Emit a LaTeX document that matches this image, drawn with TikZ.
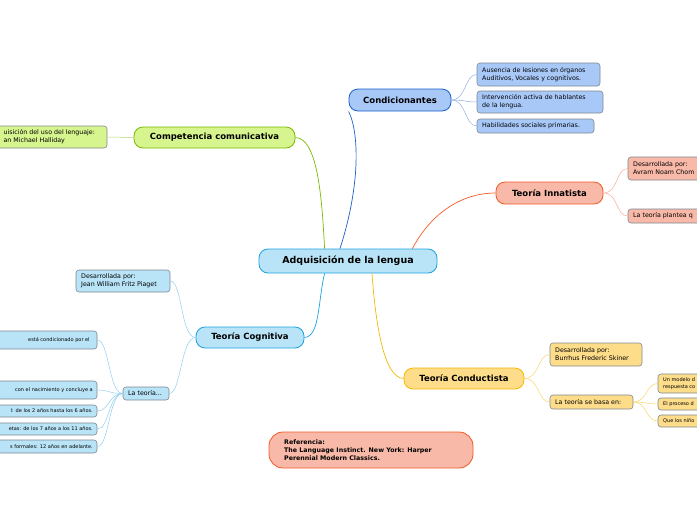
\documentclass[tikz,border=0pt]{standalone}
\usepackage{fontspec}
\setmainfont{DejaVu Sans}
\begin{document}
\begin{tikzpicture}[x=1pt,y=-1pt,
 box/.style={draw, rounded corners=3pt, line width=0.6pt, inner sep=0pt},
 main/.style={box, rounded corners=9pt, line width=0.8pt},
 tmain/.style={font=\fontsize{8.5}{10}\selectfont\bfseries},
 tch/.style={font=\fontsize{6.3}{8}\selectfont},
 tsm/.style={font=\fontsize{5}{6.5}\selectfont},
 cc/.style={line width=0.7pt},
 ch/.style={line width=0.5pt}]
\definecolor{cblue}{HTML}{B9E4F7}\definecolor{bblue}{HTML}{1BA1E2}
\definecolor{cdark}{HTML}{A8C8F8}\definecolor{bdark}{HTML}{1A5FC8}
\definecolor{cgreen}{HTML}{D6F58E}\definecolor{bgreen}{HTML}{7AB800}
\definecolor{cred}{HTML}{F8B9A8}\definecolor{bred}{HTML}{F05A28}
\definecolor{cyel}{HTML}{FDDC8A}\definecolor{byel}{HTML}{F5B800}
\definecolor{gb}{HTML}{808890}
\newcommand\bxc[7]{\node[#6, minimum width={(#3-#2)*1pt}, minimum height={(#5-#4)*1pt}] (#1) at ({(#2+#3)/2},{(#4+#5)/2}) {};
 \node[tmain] at (#1.center) {#7};}
\newcommand\bxl[8]{\node[#6, minimum width={(#3-#2)*1pt}, minimum height={(#5-#4)*1pt}] (#1) at ({(#2+#3)/2},{(#4+#5)/2}) {};
 \node[#8, anchor=west, align=left, inner sep=0pt] at ({#2+5},{(#4+#5)/2}) {#7};}
\useasboundingbox (0,0) rectangle (697,520);
\clip (0,0) rectangle (697,520);
% central
\bxc{c}{259}{437}{249}{273}{main,fill=cblue,draw=bblue}{\fontsize{9.5}{11}\selectfont Adquisición de la lengua}
% main branches
\bxc{cond}{349}{451}{89}{111}{main,fill=cdark,draw=bdark}{Condicionantes}
\bxc{comp}{134}{295}{127}{148}{main,fill=cgreen,draw=bgreen}{Competencia comunicativa}
\bxc{inn}{496}{603}{182}{204}{main,fill=cred,draw=bred}{Teoría Innatista}
\bxc{cog}{196}{304}{327}{348}{main,fill=cblue,draw=bblue}{Teoría Cognitiva}
\bxc{con}{404}{524}{368}{389}{main,fill=cyel,draw=byel}{Teoría Conductista}
\draw[cc,bdark] (c.north)+(-8,0) coordinate (c1);
\draw[cc,bdark] (c1) .. controls (362,180) and (358,130) .. (cond.south west);
\draw[cc,bgreen] (c.north west)+(66,0) coordinate (c2);
\draw[cc,bgreen] (c2) .. controls (322,200) and (318,138) .. (comp.east);
\draw[cc,bred] (c.north east)+(-25,0) coordinate (c3);
\draw[cc,bred] (c3) .. controls (430,215) and (460,193) .. (inn.west);
\draw[cc,bblue] (c.south west)+(66,0) coordinate (c4);
\draw[cc,bblue] (c4) .. controls (318,300) and (320,337) .. (cog.east);
\draw[cc,byel] (c.south)+(24,0) coordinate (c5);
\draw[cc,byel] (c5) .. controls (376,330) and (385,378) .. (con.west);
% Condicionantes children
\bxl{k1}{477}{600}{63}{86}{box,fill=cdark,draw=gb}{Ausencia de lesiones en órganos\\Auditivos, Vocales y cognitivos.}{tch}
\bxl{k2}{477}{603}{91}{113}{box,fill=cdark,draw=gb}{Intervención activa de hablantes\\de la lengua.}{tch}
\bxl{k3}{477}{594}{119}{133}{box,fill=cdark,draw=gb}{Habilidades sociales primarias.}{tch}
\foreach \k in {k1,k2,k3}\draw[ch,bdark!50] (cond.east) .. controls +(15,0) and +(-12,0) .. (\k.west);
% Competencia child
\bxl{g1}{-60}{107}{126}{148}{box,fill=cgreen,draw=gb}{}{tch}
\node[tch,anchor=east,align=left,inner sep=0pt] at (104,137) {uisición del uso del lenguaje:\\an Michael Halliday\phantom{ el lenguaje:}};
\draw[ch,bgreen!60] (comp.west) -- (g1.east);
% Innatista children
\bxl{i1}{628}{760}{157}{180}{box,fill=cred,draw=gb}{Desarrollada por:\\Avram Noam Chom}{tch}
\bxl{i2}{628}{760}{209}{223}{box,fill=cred,draw=gb}{La teoría plantea q}{tch}
\foreach \k in {i1,i2}\draw[ch,bred!50] (inn.east) .. controls +(15,0) and +(-12,0) .. (\k.west);
% Cognitiva children
\bxl{p1}{76}{170}{270}{292}{box,fill=cblue,draw=gb}{Desarrollada por:\\Jean William Fritz Piaget}{tch}
\bxl{p2}{123}{169}{387}{400}{box,fill=cblue,draw=gb}{La teoría...}{tch}
\foreach \k in {p1,p2}\draw[ch,bblue!50] (cog.west) .. controls +(-15,0) and +(12,0) .. (\k.east);
\newcommand\lb[4]{\node[box,fill=cblue,draw=gb,minimum width=160pt,minimum height={(#3-#2)*1pt}] (#1) at (17,{(#2+#3)/2}) {};
 \node[tsm,anchor=east,inner sep=0pt] at (93,{(#2+#3)/2}) {#4};
 \draw[ch,bblue!50] (p2.west) .. controls +(-14,0) and +(12,0) .. (#1.east);}
\lb{q1}{331}{349}{está condicionado por el\phantom{g}}
\node[tsm,anchor=east,inner sep=0pt] at (93,336.5) {\phantom{x}};
\lb{q2}{381}{399}{con el nacimiento y concluye a}
\lb{q3}{405}{417}{l: de los 2 años hasta los 6 años.}
\lb{q4}{423}{435}{etas: de los 7 años a los 11 años.}
\lb{q5}{440}{453}{s formales: 12 años en adelante.}
% Conductista children
\bxl{b1}{550}{642}{343}{366}{box,fill=cyel,draw=gb}{Desarrollada por:\\Burrhus Frederic Skiner}{tch}
\bxl{b2}{550}{633}{395}{409}{box,fill=cyel,draw=gb}{La teoría se basa en:}{tch}
\foreach \k in {b1,b2}\draw[ch,byel!60] (con.east) .. controls +(15,0) and +(-12,0) .. (\k.west);
\bxl{r1}{658}{760}{374}{393}{box,fill=cyel,draw=gb}{Un modelo d\\respuesta co}{tsm}
\bxl{r2}{658}{760}{398}{410}{box,fill=cyel,draw=gb}{El proceso d}{tsm}
\bxl{r3}{658}{760}{415}{427}{box,fill=cyel,draw=gb}{Que los niño}{tsm}
\foreach \k in {r1,r2,r3}\draw[ch,byel!60] (b2.east) .. controls +(14,0) and +(-12,0) .. (\k.west);
% Referencia
\node[draw=bred,fill=cred,rounded corners=14pt,line width=0.8pt,minimum width=204pt,minimum height=36pt] (ref) at (371,450) {};
\node[font=\fontsize{6.3}{8}\selectfont\bfseries,anchor=west,align=left,inner sep=0pt] at (284,450) {Referencia:\\The Language Instinct. New York: Harper\\Perennial Modern Classics.};
\end{tikzpicture}
\end{document}
